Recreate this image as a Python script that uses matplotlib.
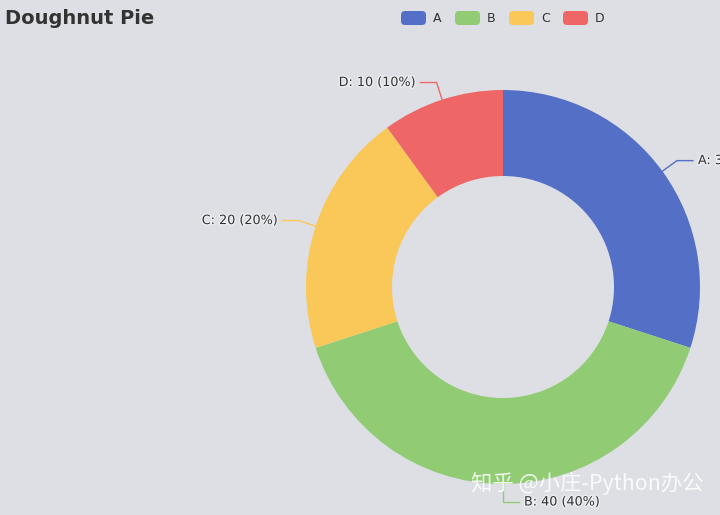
import numpy as np
import matplotlib.pyplot as plt
import matplotlib.patheffects as pe
from matplotlib.patches import FancyBboxPatch

# data
names = ["A", "B", "C", "D"]
values = [30, 40, 20, 10]
colors = ["#5470c6", "#91cc75", "#fac858", "#ee6666"]

W, H = 720, 515
bg = "#dddfe4"

fig = plt.figure(figsize=(7.2, 5.15), dpi=100, facecolor=bg)
ax = fig.add_axes([0, 0, 1, 1])
ax.set_facecolor(bg)
ax.set_xlim(0, W)
ax.set_ylim(0, H)
ax.set_aspect("equal")
ax.axis("off")

# doughnut, pixel coords with y measured from the bottom
cx, cy = 503, H - 287
r_out, r_in = 197, 111
ax.pie(values, colors=colors, startangle=90, counterclock=False,
       center=(cx, cy), radius=r_out,
       wedgeprops=dict(width=r_out - r_in, linewidth=0))
ax.set_xlim(0, W)
ax.set_ylim(0, H)

# outside labels with leader lines (the A label runs off the right edge, as in the original)
total = sum(values)
start = 0.0
for name, v, c in zip(names, values, colors):
    mid = start + v / total * 360 / 2      # clockwise from top, degrees
    start += v / total * 360
    a = np.radians(mid)
    dx, dy = np.sin(a), np.cos(a)
    p0 = (cx + r_out * dx, cy + r_out * dy)
    p1 = (cx + (r_out + 18) * dx, cy + (r_out + 18) * dy)
    side = 1 if dx >= -1e-6 else -1
    p2 = (p1[0] + side * 16, p1[1])
    ax.plot([p0[0], p1[0], p2[0]], [p0[1], p1[1], p2[1]], color=c, lw=1,
            solid_joinstyle="miter", clip_on=False)
    ax.text(p2[0] + side * 5, p2[1], f"{name}: {v} ({v / total * 100:.0f}%)",
            ha="left" if side > 0 else "right", va="center",
            fontsize=9.2, color="#333333", family="DejaVu Sans",
            path_effects=[pe.withStroke(linewidth=2, foreground="#eceef2")])

# title
fig.text(5 / W, 1 - 18 / H, "Doughnut Pie", fontsize=14, fontweight="bold",
         color="#333333", family="DejaVu Sans", va="center", ha="left")

# legend (top, centered)
lx = [401, 455, 509, 563]
for x0, name, c in zip(lx, names, colors):
    box = FancyBboxPatch((x0, H - 25), 25, 14,
                         boxstyle="round,pad=0,rounding_size=4",
                         facecolor=c, edgecolor="none", clip_on=False)
    ax.add_patch(box)
    ax.text(x0 + 32, H - 18, name, fontsize=9, color="#333333",
            va="center", ha="left", family="DejaVu Sans")

# watermark
fig.text(471 / W, 1 - 483 / H, "知乎 @小庄-Python办公", fontsize=15.4,
         color="white", alpha=0.85, va="center", ha="left",
         family=["Noto Sans CJK SC", "DejaVu Sans"])

fig.savefig("out.png", dpi=100, facecolor=bg)
